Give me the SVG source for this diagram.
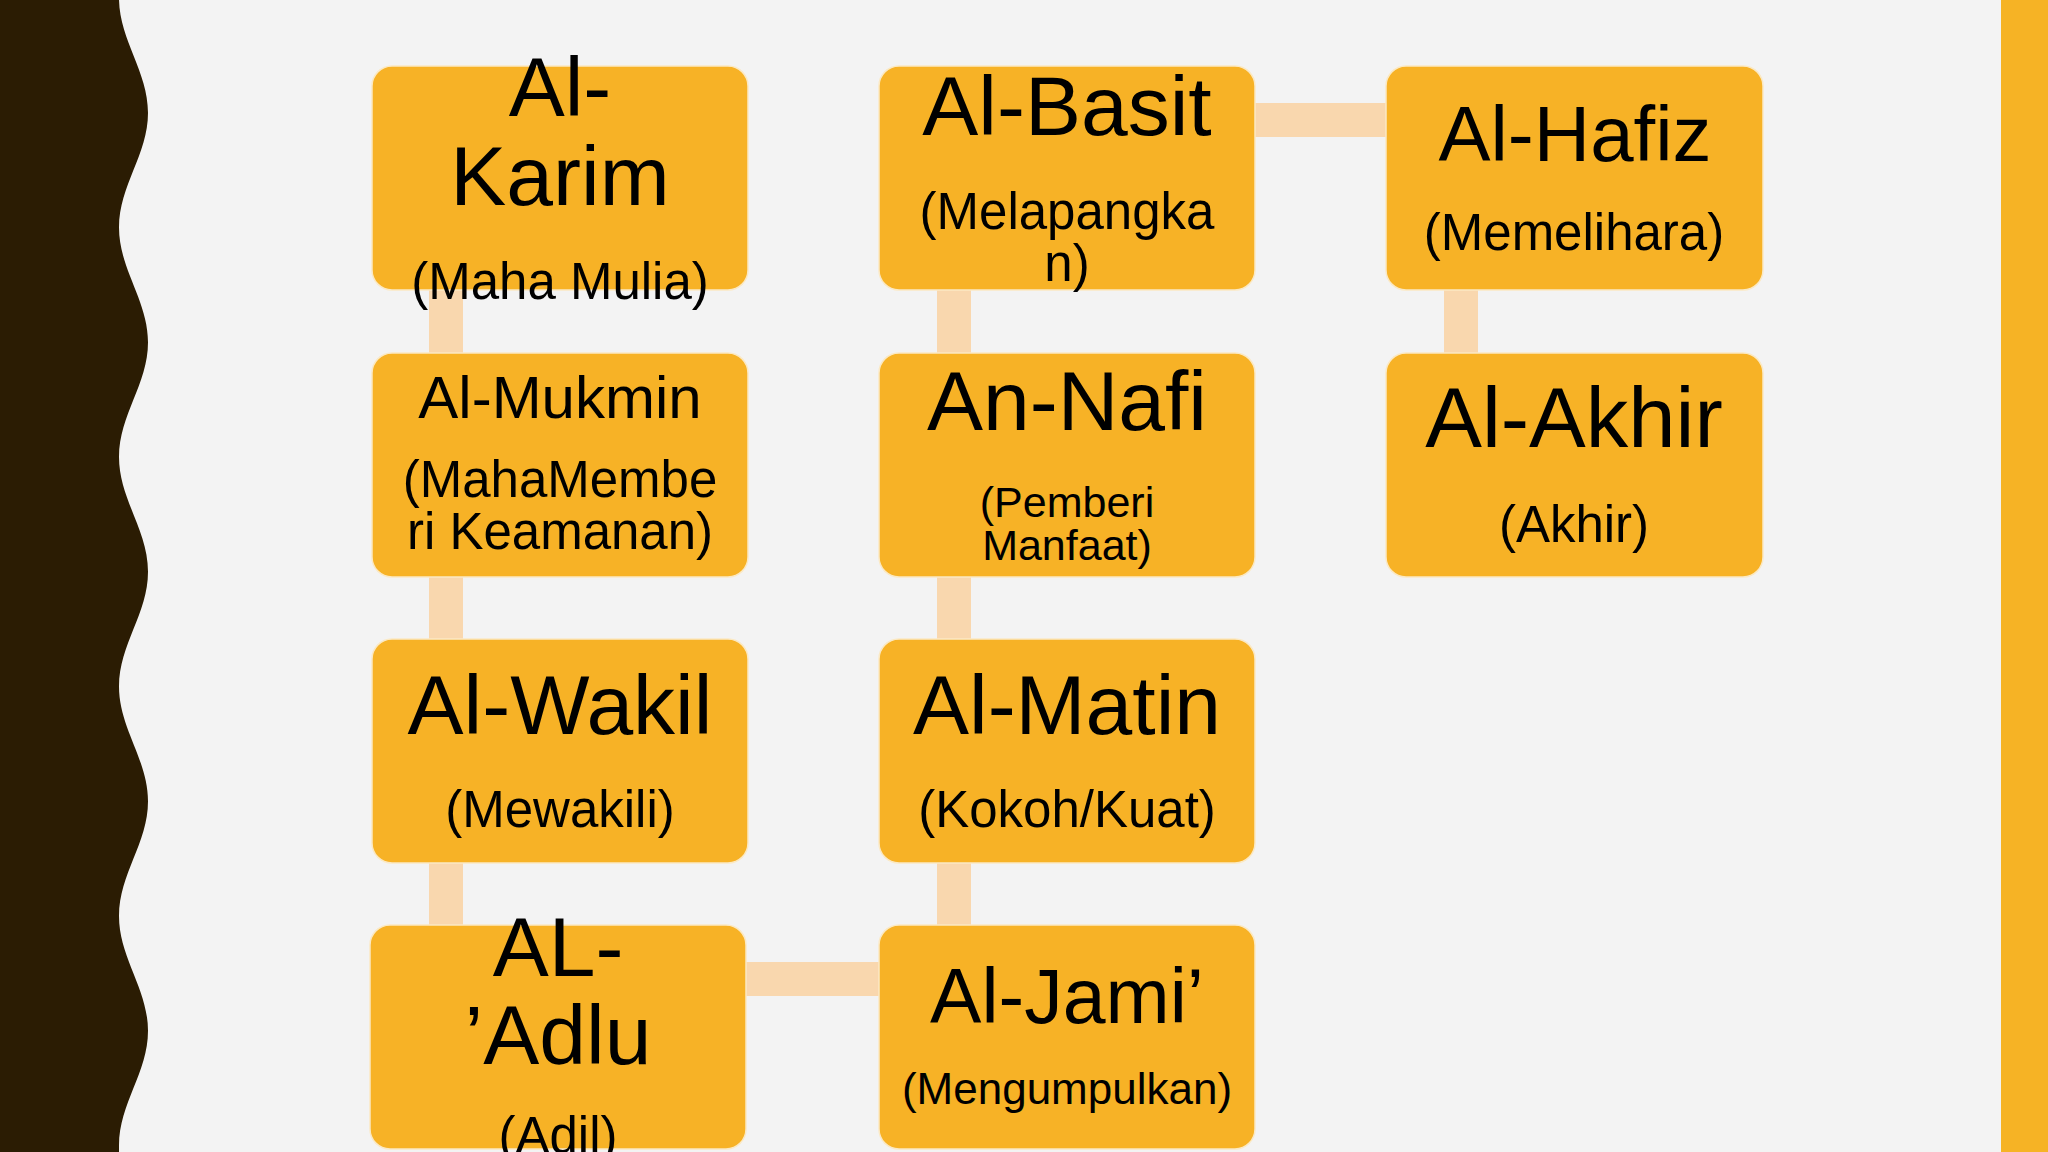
<svg xmlns="http://www.w3.org/2000/svg" width="2048" height="1152" viewBox="0 0 2048 1152">
<style>
.box{fill:#f7b226;stroke:#fbe9c4;stroke-width:1.5}
.con{fill:#f9d7ae}
text{font-family:"Liberation Sans",Arial,sans-serif;fill:#000;text-anchor:middle}
</style>
<rect width="2048" height="1152" fill="#f3f3f3"/>
<path fill="#2b1c03" d="M0,-2 L119,-2 C119,39.8 148,71 148,112.8 C148,154.6 119,185.7 119,227.5 C119,269.3 148,300.5 148,342.3 C148,384.1 119,415.2 119,457 C119,498.8 148,530 148,571.8 C148,613.6 119,644.7 119,686.5 C119,728.3 148,759.5 148,801.3 C148,843.1 119,874.2 119,916 C119,957.8 148,989 148,1030.8 C148,1072.6 119,1103.7 119,1145.5 L119,1152 L0,1152 Z"/>
<rect x="2001" y="0" width="47" height="1152" fill="#f6b325"/>
<g id="connectors">
<rect class="con" x="429" y="289" width="34" height="66"/>
<rect class="con" x="429" y="575" width="34" height="66"/>
<rect class="con" x="429" y="861" width="34" height="66"/>
<rect class="con" x="937" y="289" width="34" height="66"/>
<rect class="con" x="937" y="575" width="34" height="66"/>
<rect class="con" x="937" y="861" width="34" height="66"/>
<rect class="con" x="1444" y="289" width="34" height="66"/>
<rect class="con" x="1253" y="103" width="135" height="34"/>
<rect class="con" x="744" y="962" width="137" height="34"/>
</g>
<g id="al-karim">
<rect class="box" x="372" y="66" width="376" height="224" rx="20"/>
<text x="560" y="116" font-size="84">Al-</text>
<text x="560" y="205" font-size="84">Karim</text>
<text x="560" y="299" font-size="51">(Maha Mulia)</text>
</g>
<g id="al-basit">
<rect class="box" x="879" y="66" width="376" height="224" rx="20"/>
<text x="1067" y="135" font-size="84">Al-Basit</text>
<text x="1067" y="229" font-size="51">(Melapangka</text>
<text x="1067" y="281" font-size="51">n)</text>
</g>
<g id="al-hafiz">
<rect class="box" x="1386" y="66" width="377" height="224" rx="20"/>
<text x="1575" y="161" font-size="78">Al-Hafiz</text>
<text x="1574" y="250" font-size="51">(Memelihara)</text>
</g>
<g id="al-mukmin">
<rect class="box" x="372" y="353" width="376" height="224" rx="20"/>
<text x="560" y="418" font-size="60">Al-Mukmin</text>
<text x="560" y="497" font-size="51">(MahaMembe</text>
<text x="560" y="549" font-size="51">ri Keamanan)</text>
</g>
<g id="an-nafi">
<rect class="box" x="879" y="353" width="376" height="224" rx="20"/>
<text x="1067" y="430" font-size="84">An-Nafi</text>
<text x="1067" y="517" font-size="43">(Pemberi</text>
<text x="1067" y="560" font-size="43">Manfaat)</text>
</g>
<g id="al-akhir">
<rect class="box" x="1386" y="353" width="377" height="224" rx="20"/>
<text x="1574" y="447" font-size="85">Al-Akhir</text>
<text x="1574" y="542" font-size="51">(Akhir)</text>
</g>
<g id="al-wakil">
<rect class="box" x="372" y="639" width="376" height="224" rx="20"/>
<text x="560" y="734" font-size="84">Al-Wakil</text>
<text x="560" y="827" font-size="51">(Mewakili)</text>
</g>
<g id="al-matin">
<rect class="box" x="879" y="639" width="376" height="224" rx="20"/>
<text x="1067" y="734" font-size="84">Al-Matin</text>
<text x="1067" y="827" font-size="51">(Kokoh/Kuat)</text>
</g>
<g id="al-adlu">
<rect class="box" x="370" y="925" width="376" height="224" rx="20"/>
<text x="558" y="976" font-size="84">AL-</text>
<text x="558" y="1064" font-size="84">’Adlu</text>
<text x="558" y="1153" font-size="51">(Adil)</text>
</g>
<g id="al-jami">
<rect class="box" x="879" y="925" width="376" height="224" rx="20"/>
<text x="1067" y="1023" font-size="77">Al-Jami’</text>
<text x="1067" y="1104" font-size="44">(Mengumpulkan)</text>
</g>
</svg>
